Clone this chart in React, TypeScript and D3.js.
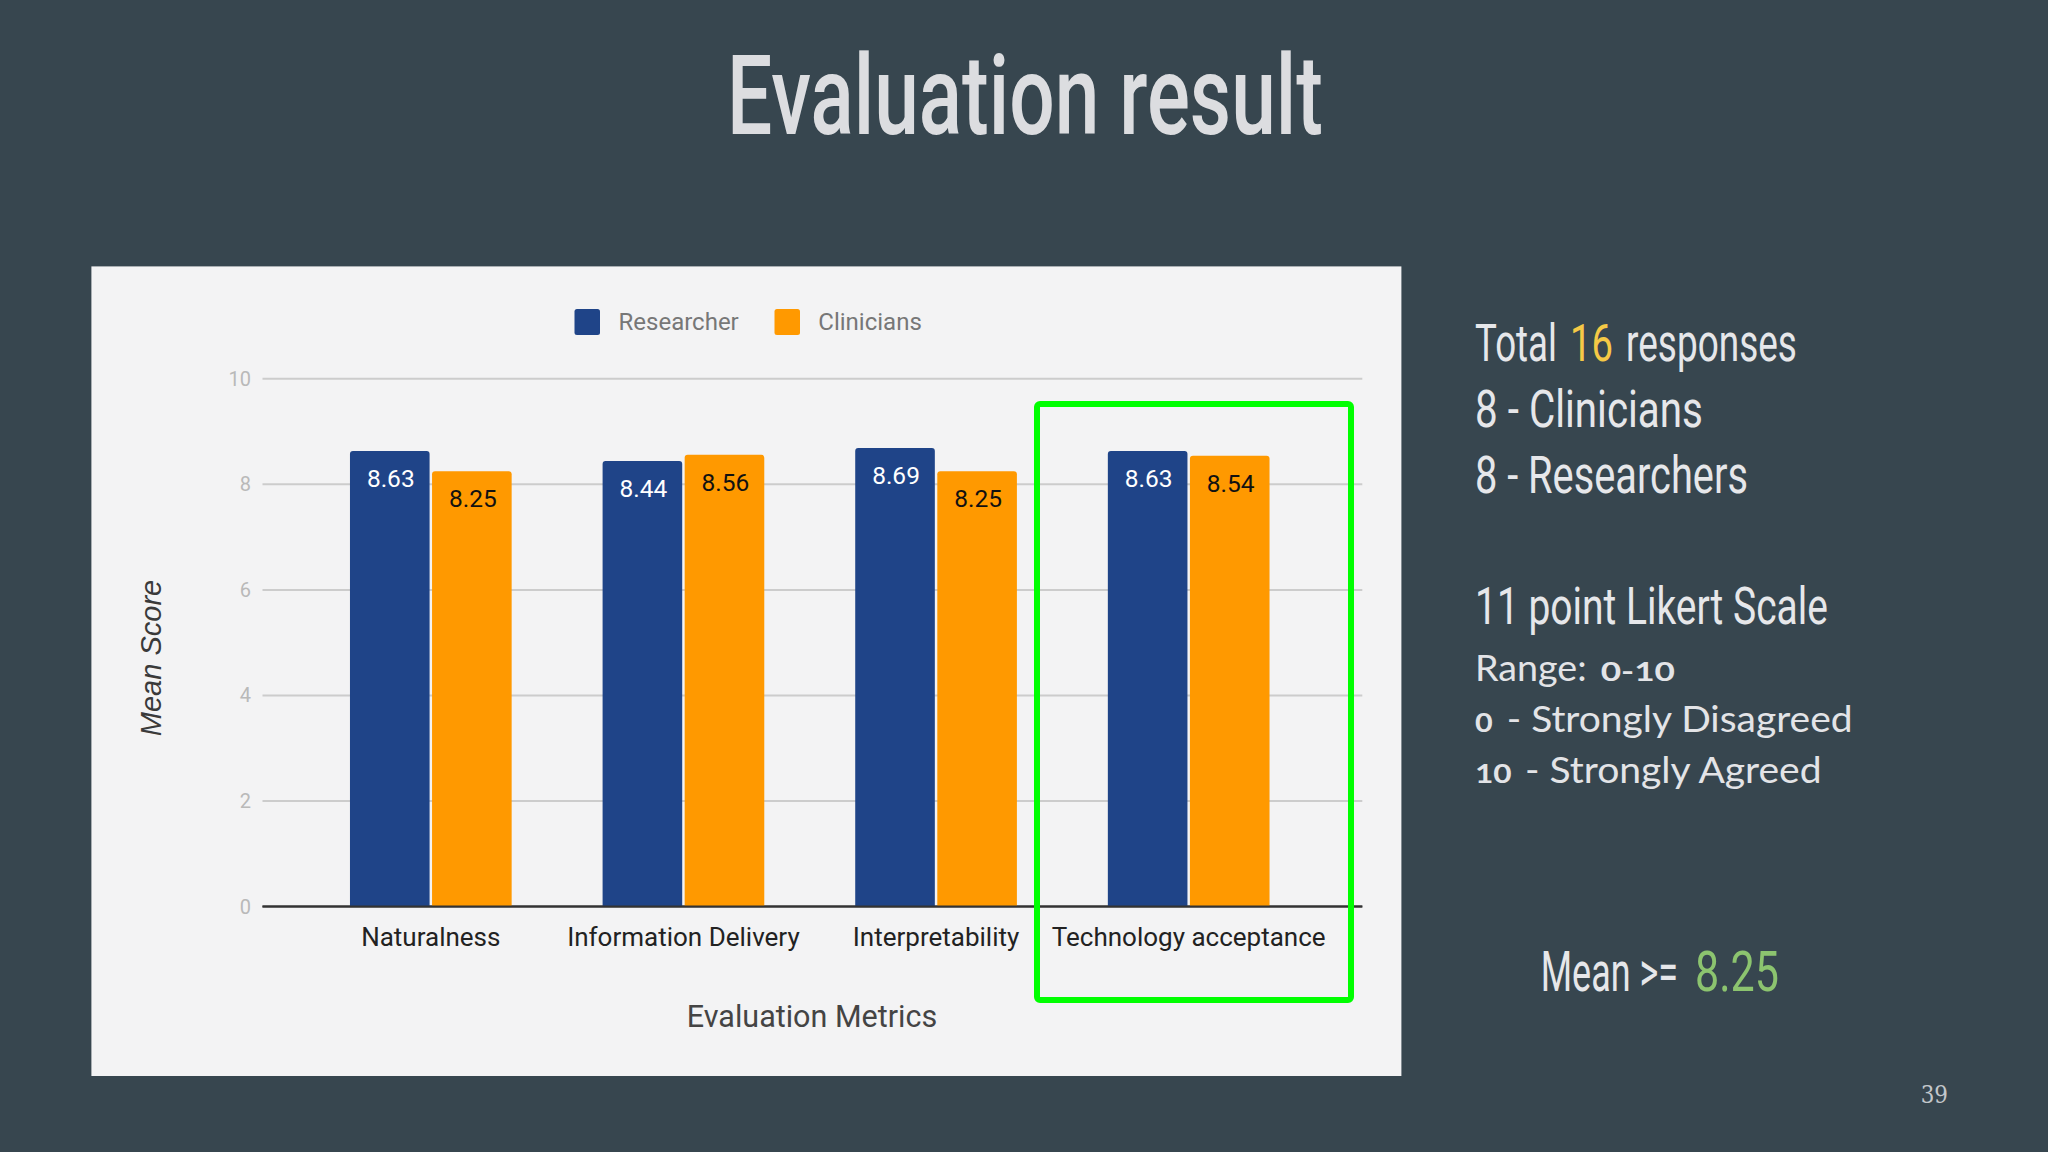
import React, { useLayoutEffect, useRef } from "react";
import * as d3 from "d3";

const categories = ["Naturalness", "Information Delivery", "Interpretability", "Technology acceptance"];
const seriesNames = ["Researcher", "Clinicians"];
const researcherScores = [8.63, 8.44, 8.69, 8.63];
const clinicianScores = [8.25, 8.56, 8.25, 8.54];
const yTicks = [0, 2, 4, 6, 8, 10];
const seriesColors = ["#1f4488", "#ff9900"];
const labelColors = ["#ffffff", "#111111"];

const W = 2048;
const H = 1152;
const BG = "#37464f";
const COND = "Roboto, 'Liberation Sans', sans-serif";
const LATO = "Lato, 'Open Sans', sans-serif";

function topRoundedBar(x: number, y: number, w: number, h: number, r: number) {
  const p = d3.path();
  p.moveTo(x, y + h);
  p.lineTo(x, y + r);
  p.arcTo(x, y, x + r, y, r);
  p.lineTo(x + w - r, y);
  p.arcTo(x + w, y, x + w, y + r, r);
  p.lineTo(x + w, y + h);
  p.closePath();
  return p.toString();
}

// Text squeezed horizontally to a target width (emulates a condensed face)
function FitText(props: {
  x: number;
  y: number;
  width: number;
  size: number;
  family: string;
  fill: string;
  weight?: number;
  children: React.ReactNode;
}) {
  const ref = useRef<SVGTextElement>(null);
  useLayoutEffect(() => {
    const el = ref.current;
    if (!el) return;
    const len = el.getComputedTextLength();
    const sx = len > 0 ? props.width / len : 1;
    el.setAttribute("transform", `translate(${props.x},${props.y}) scale(${sx},1)`);
  });
  return (
    <text
      ref={ref}
      transform={`translate(${props.x},${props.y})`}
      fontFamily={props.family}
      fontSize={props.size}
      fontWeight={props.weight ?? 400}
      fill={props.fill}
      style={{ whiteSpace: "pre" }}
    >
      {props.children}
    </text>
  );
}

export default function App() {
  const y = d3.scaleLinear().domain([0, 10]).range([906.5, 378.8]);
  const x0 = d3.scaleBand<string>().domain(categories).range([304.5, 1315]).paddingInner(0.36).paddingOuter(0.18);
  const x1 = d3.scaleBand<string>().domain(seriesNames).range([0, x0.bandwidth()]).paddingInner(0.03);
  const values = [researcherScores, clinicianScores];
  const gridX1 = 262.5;
  const gridX2 = 1362.3;
  const light = "#e6e7ea";

  return (
    <svg width={W} height={H} style={{ position: "absolute", left: 0, top: 0, display: "block" }}>
      <rect x={0} y={0} width={W} height={H} fill={BG} />
      {/* Title */}
      <FitText x={727} y={134} width={596} size={111} family={COND} weight={500} fill="#dcdde0">
        Evaluation result
      </FitText>

      {/* Chart panel */}
      <rect x={91.4} y={266.4} width={1310} height={809.6} fill="#f3f3f4" />

      {/* Legend */}
      {seriesNames.map((s, i) => {
        const sx = [574.5, 774.5][i];
        const tx = [618.5, 818.3][i];
        return (
          <g key={s}>
            <rect x={sx} y={309} width={25.5} height={26} rx={2.5} fill={seriesColors[i]} />
            <text x={tx} y={330} fontFamily="Roboto, sans-serif" fontSize={24} fill="#777777">
              {s}
            </text>
          </g>
        );
      })}

      {/* Gridlines and ticks */}
      {yTicks.map((t) => (
        <g key={t}>
          <line
            x1={gridX1}
            x2={gridX2}
            y1={y(t)}
            y2={y(t)}
            stroke={t === 0 ? "#333333" : "#cccccc"}
            strokeWidth={2}
          />
          <text x={251} y={y(t) + 7} textAnchor="end" fontFamily="Roboto, sans-serif" fontSize={20} fill="#b9b9b9">
            {t}
          </text>
        </g>
      ))}

      {/* Bars */}
      {categories.map((c, ci) => (
        <g key={c} transform={`translate(${x0(c)},0)`}>
          {seriesNames.map((s, si) => {
            const v = values[si][ci];
            const bx = x1(s) as number;
            const bw = x1.bandwidth();
            const by = y(v);
            return (
              <g key={s}>
                <path d={topRoundedBar(bx, by, bw, y(0) - by, 3)} fill={seriesColors[si]} />
                <text
                  x={bx + bw / 2 + 1}
                  y={by + 36}
                  textAnchor="middle"
                  fontFamily="Roboto, sans-serif"
                  fontSize={24.5}
                  fill={labelColors[si]}
                >
                  {v.toFixed(2)}
                </text>
              </g>
            );
          })}
        </g>
      ))}
      {/* baseline over bars */}
      <line x1={gridX1} x2={gridX2} y1={y(0)} y2={y(0)} stroke="#333333" strokeWidth={2} />

      {/* Category labels */}
      {categories.map((c) => (
        <text
          key={c}
          x={(x0(c) as number) + x0.bandwidth() / 2}
          y={946}
          textAnchor="middle"
          fontFamily="Roboto, sans-serif"
          fontSize={26}
          fill="#222222"
        >
          {c}
        </text>
      ))}

      {/* Axis titles */}
      <text x={812} y={1027} textAnchor="middle" fontFamily="Roboto, sans-serif" fontSize={30.5} fill="#444444">
        Evaluation Metrics
      </text>
      <text
        transform="translate(160.5,658) rotate(-90)"
        textAnchor="middle"
        fontFamily="'Liberation Sans', Arial, sans-serif"
        fontStyle="italic"
        fontSize={29}
        fill="#3a3a3a"
      >
        Mean Score
      </text>

      {/* Highlight box */}
      <rect x={1037} y={404} width={314} height={596} rx={3} fill="none" stroke="#00ff00" strokeWidth={6} />

      {/* Right side notes */}
      <FitText x={1475} y={361} width={82} size={52} family={COND} fill={light}>Total</FitText>
      <FitText x={1570} y={361} width={43} size={52} family={COND} fill="#f5c946">16</FitText>
      <FitText x={1626} y={361} width={171} size={52} family={COND} fill={light}>responses</FitText>
      <FitText x={1475} y={426.7} width={228} size={52} family={COND} fill={light}>8 - Clinicians</FitText>
      <FitText x={1475} y={492.7} width={273} size={52} family={COND} fill={light}>8 - Researchers</FitText>
      <FitText x={1475} y={624} width={353} size={52} family={COND} fill={light}>11 point Likert Scale</FitText>

      <FitText x={1475} y={681} width={111.7} size={36} family={LATO} fill="#e3e4e7">Range:</FitText>
      <FitText x={1600.7} y={681} width={74.3} size={27} weight={700} family={LATO} fill="#e3e4e7">0-10</FitText>

      <FitText x={1475} y={731.7} width={17.7} size={27} weight={700} family={LATO} fill="#e3e4e7">0</FitText>
      <FitText x={1506.7} y={731.7} width={346} size={36} family={LATO} fill="#e3e4e7">- Strongly Disagreed</FitText>

      <FitText x={1475} y={783.3} width={36.7} size={27} weight={700} family={LATO} fill="#e3e4e7">10</FitText>
      <FitText x={1525} y={783.3} width={296.7} size={36} family={LATO} fill="#e3e4e7">- Strongly Agreed</FitText>

      <FitText x={1540.7} y={990.7} width={137.3} size={55} family={COND} fill={light}>{"Mean >="}</FitText>
      <FitText x={1695} y={990.7} width={84} size={55} family={COND} fill="#8cc46f">8.25</FitText>

      <FitText x={1920.7} y={1102.7} width={27.3} size={25} family="'DejaVu Serif', 'Liberation Serif', serif" fill="#c3c7cb">
        39
      </FitText>
    </svg>
  );
}
